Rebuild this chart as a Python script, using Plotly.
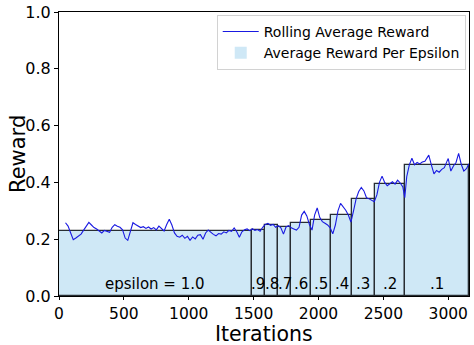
import plotly.graph_objects as go

# Rolling average reward (iteration, value)
iters = [50, 70, 90, 110, 130, 150, 170, 190, 210, 230, 250, 270, 290, 310, 330, 350, 370, 390,
         410, 430, 450, 470, 490, 510, 530, 550, 570, 590, 610, 630, 650, 670, 690, 710, 730, 750,
         770, 790, 810, 830, 850, 870, 890, 910, 930, 950, 970, 990, 1010, 1030, 1050, 1070, 1090,
         1110, 1130, 1150, 1170, 1190, 1210, 1230, 1250, 1270, 1290, 1310, 1330, 1350, 1370, 1390,
         1410, 1430, 1450, 1470, 1490, 1510, 1530, 1550, 1570, 1590, 1610, 1630, 1650, 1670, 1690,
         1710, 1730, 1750, 1770, 1790, 1810, 1830, 1850, 1870, 1890, 1910, 1930, 1950, 1970, 1990,
         2010, 2030, 2050, 2070, 2090, 2110, 2130, 2150, 2170, 2190, 2210, 2230, 2250, 2270, 2290,
         2310, 2330, 2350, 2370, 2390, 2410, 2430, 2450, 2470, 2490, 2510, 2530, 2550, 2570, 2590,
         2610, 2630, 2650, 2665, 2680, 2700, 2720, 2740, 2760, 2780, 2800, 2820, 2840, 2850, 2870,
         2890, 2910, 2930, 2950, 2970, 2990, 3000, 3020, 3040, 3060, 3080, 3100, 3120, 3140, 3160]
rolling = [0.258, 0.246, 0.222, 0.198, 0.204, 0.212, 0.218, 0.232, 0.248, 0.259, 0.250, 0.241,
           0.236, 0.228, 0.222, 0.231, 0.226, 0.224, 0.242, 0.251, 0.246, 0.242, 0.233, 0.204,
           0.196, 0.226, 0.258, 0.252, 0.246, 0.241, 0.244, 0.238, 0.243, 0.236, 0.241, 0.233,
           0.246, 0.238, 0.229, 0.252, 0.270, 0.250, 0.222, 0.210, 0.207, 0.214, 0.203, 0.210,
           0.196, 0.208, 0.201, 0.214, 0.216, 0.200, 0.222, 0.232, 0.224, 0.217, 0.212, 0.220,
           0.218, 0.226, 0.222, 0.231, 0.228, 0.240, 0.226, 0.207, 0.226, 0.233, 0.236, 0.230,
           0.237, 0.231, 0.234, 0.228, 0.242, 0.252, 0.256, 0.249, 0.252, 0.242, 0.248, 0.240,
           0.218, 0.243, 0.248, 0.240, 0.236, 0.232, 0.242, 0.285, 0.298, 0.282, 0.252, 0.232,
           0.285, 0.310, 0.276, 0.262, 0.256, 0.250, 0.240, 0.219, 0.250, 0.300, 0.326, 0.314,
           0.302, 0.285, 0.260, 0.300, 0.342, 0.368, 0.382, 0.370, 0.346, 0.342, 0.336, 0.332,
           0.356, 0.400, 0.422, 0.400, 0.388, 0.395, 0.402, 0.394, 0.408, 0.398, 0.384, 0.346,
           0.420, 0.462, 0.485, 0.462, 0.470, 0.465, 0.472, 0.474, 0.490, 0.496, 0.462, 0.430,
           0.442, 0.436, 0.446, 0.452, 0.474, 0.484, 0.440, 0.458, 0.470, 0.502, 0.464, 0.440,
           0.448, 0.466]

# Average reward per epsilon segment
edges = [0, 1485, 1590, 1690, 1790, 1945, 2100, 2255, 2435, 2670, 3160]
avg_reward = [0.229, 0.233, 0.249, 0.243, 0.256, 0.268, 0.284, 0.343, 0.394, 0.461]
eps_labels = ["epsilon = 1.0", ".9", ".8", ".7", ".6", ".5", ".4", ".3", ".2", ".1"]

x_ticks = [0, 500, 1000, 1500, 2000, 2500, 3000]
y_ticks = [0.0, 0.2, 0.4, 0.6, 0.8, 1.0]

centers = [(edges[i] + edges[i + 1]) / 2 for i in range(len(avg_reward))]
widths = [edges[i + 1] - edges[i] for i in range(len(avg_reward))]

FONT = "DejaVu Sans"
fig = go.Figure()

fig.add_trace(go.Bar(x=centers, y=avg_reward, width=widths,
                     marker=dict(color="rgb(207,232,246)", line=dict(width=0)),
                     name="Average Reward Per Epsilon", showlegend=True))
fig.add_trace(go.Bar(x=centers, y=avg_reward, width=widths,
                     marker=dict(color="rgba(0,0,0,0)", line=dict(color="rgb(40,45,50)", width=1.3)),
                     showlegend=False, hoverinfo="skip"))
fig.add_trace(go.Scatter(x=iters, y=rolling, mode="lines",
                         line=dict(color="rgb(25,25,225)", width=1.1),
                         name="Rolling Average Reward"))

for c, lab in zip(centers, eps_labels):
    fig.add_annotation(x=c, y=0.005, text=lab, showarrow=False, yanchor="bottom",
                       xanchor="center", font=dict(family=FONT, size=15, color="black"))

# axis titles
fig.add_annotation(x=0.5, y=-0.134, xref="paper", yref="paper", text="Iterations",
                   showarrow=False, xanchor="center", yanchor="middle", borderpad=0,
                   font=dict(family=FONT, size=20.5, color="black"))
fig.add_annotation(x=-0.1, y=0.5, xref="paper", yref="paper", text="Reward", textangle=-90,
                   showarrow=False, xanchor="center", yanchor="middle", borderpad=0,
                   font=dict(family=FONT, size=21, color="black"))

fig.update_layout(
    width=474, height=345,
    margin=dict(l=59, r=5, t=12, b=49),
    barmode="overlay", bargap=0,
    plot_bgcolor="white", paper_bgcolor="white",
    font=dict(family=FONT, color="black"),
    legend=dict(x=0.992, y=0.99, xanchor="right", yanchor="top",
                bgcolor="white", bordercolor="rgb(210,210,210)", borderwidth=1,
                font=dict(family=FONT, size=14), traceorder="reversed",
                tracegroupgap=0, itemwidth=36),
)
fig.update_xaxes(range=[0, 3160], tickvals=x_ticks, showgrid=False, zeroline=False,
                 showline=True, linecolor="black", linewidth=1, mirror=True,
                 ticks="outside", ticklen=3, tickcolor="black", automargin=False,
                 tickfont=dict(family=FONT, size=15.5))
fig.update_yaxes(range=[0, 1.0], tickvals=y_ticks, tickformat=".1f", showgrid=False,
                 zeroline=False, showline=True, linecolor="black", linewidth=1, mirror=True,
                 ticks="outside", ticklen=4, tickcolor="black", automargin=False,
                 tickfont=dict(family=FONT, size=16))

fig.write_html("out.html")
